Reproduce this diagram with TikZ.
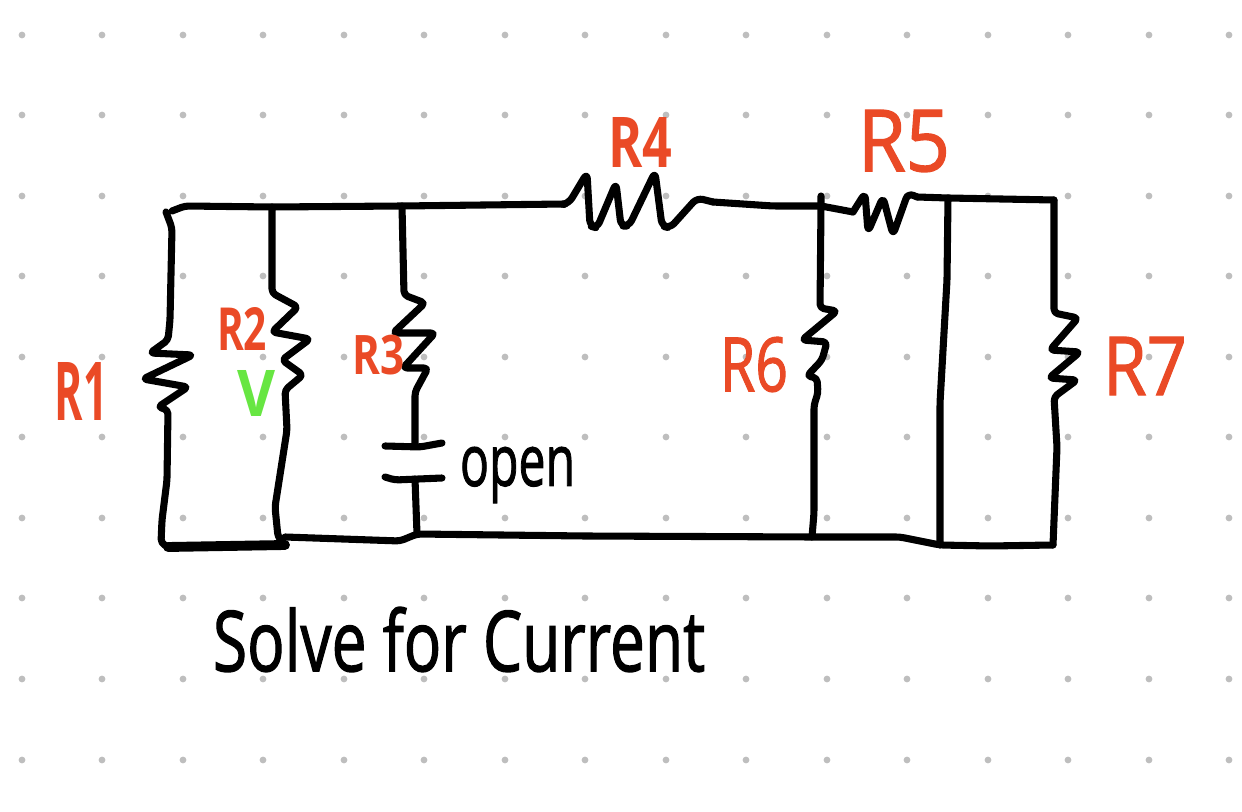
\documentclass[tikz,border=0pt]{standalone}
\usepackage{graphicx}
\usepackage{fontspec}
\setmainfont{Open Sans}
\newfontfamily\inkfont{Open Sans}[FakeBold=1.6]
\definecolor{inkred}{HTML}{EA4A26}
\definecolor{inkgreen}{HTML}{67E642}
\definecolor{dotgrey}{HTML}{BEBEBE}
\newlength\pxu \setlength\pxu{0.75pt}
\newcommand\hwtext[3]{\resizebox*{#1\pxu}{#2\pxu}{\bfseries #3}}
\newcommand\hwthin[3]{\resizebox*{#1\pxu}{#2\pxu}{\inkfont #3}}
\tikzset{
  wire/.style={line width=5.3pt,line cap=round,line join=round,rounded corners=3pt,black},
  coil/.style={wire,rounded corners=4.5pt},
  fatwire/.style={wire,line width=7.4pt},
  hand/.style={inner sep=0pt,outer sep=0pt,anchor=center},
  red label/.style={hand,text=inkred},
  green label/.style={hand,text=inkgreen},
  black label/.style={hand,text=black}
}
\begin{document}
\begin{tikzpicture}[x=0.75pt,y=-0.75pt]
\useasboundingbox (0,0) rectangle (1242,812);
\foreach \gx in {22,102,183,263,344,424,505,585,666,746,827,907,988,1068,1149,1229}
  \foreach \gy in {35,115,196,276,357,437,518,598,679,760}
    \fill[dotgrey] (\gx,\gy) circle (3.4);
% junctions
\coordinate (tl) at (172,211);
\coordinate (t2) at (272,207);
\coordinate (t3) at (402,206);
\coordinate (t6) at (821,206);
\coordinate (t8) at (948,198);
\coordinate (tr) at (1054,200);
\coordinate (bl) at (161,543);
\coordinate (b2) at (285,545);
\coordinate (b2w) at (285,537);
\coordinate (b3) at (417,534);
\coordinate (b6) at (812,537);
\coordinate (b8) at (940,545);
\coordinate (br) at (1053,545);
\coordinate (r3end) at (415,392);
\coordinate (c1) at (415,446);
\coordinate (c2) at (415,479);
% top rail
\draw[wire] (tl) -- (185,206) -- (t2) -- (t3) -- (565,204);
\draw[coil] (565,204) -- (569,203) -- (587,173) -- (590,226) -- (597,228) -- (616,183) -- (621,226) -- (629,226)
  -- (655,172) -- (662,226) -- (670,228) -- (697,198) -- (713,202);
\draw[wire] (713,202) -- (743,204) -- (773,206) -- (t6) -- (853,212);
\draw[coil] (853,212) -- (865,193) -- (868,232) -- (883,197) -- (893,235) -- (908,193) -- (917,197);
\draw[wire] (917,197) -- (t8) -- (tr);
% R1
\draw[wire] (166,212) -- (172,228) -- (170,320) -- (168,340) -- (150,353) -- (193,355) -- (143,379)
  -- (188,387) -- (158,407) -- (168,410) -- (167,480) -- (162,520) -- (bl) -- (168,547);
% R2
\draw[wire] (t2) -- (272,293) -- (298,307) -- (272,332) -- (310,339) -- (282,360) -- (303,375)
  -- (285,390) -- (287,430) -- (275,507) -- (278,537) -- (b2);
% R3 and capacitor
\draw[wire] (t3) -- (404,295) -- (425,303) -- (393,333) -- (435,333) -- (403,368) -- (428,368) -- (r3end) -- (c1);
\draw[wire] (385,446) -- (420,447) -- (442,443);
\draw[wire] (385,477) -- (395,480) -- (442,478);
\draw[wire] (c2) -- (b3);
% R6
\draw[wire] (821,196) -- (t6) -- (820,308) -- (837,311) -- (802,340) -- (827,342) -- (822,360) -- (807,376)
  -- (817,378) -- (818,393) -- (814,405) -- (814,513) -- (b6);
% shorting wire
\draw[wire] (t8) -- (947,280) -- (940,403) -- (b8);
% R7
\draw[wire] (tr) -- (1054,313) -- (1078,318) -- (1050,350) -- (1080,352) -- (1049,378) -- (1077,380)
  -- (1054,397) -- (1057,447) -- (br);
% bottom rail
\draw[fatwire] (168,547) -- (b2);
\draw[wire] (b2w) -- (400,541) -- (b3) -- (585,536) -- (b6) -- (900,537) -- (b8) -- (990,546) -- (br);
% labels
\node[red label] (lR1) at (81.5,391) {\hwtext{53}{58}{R1}};
\node[red label] (lR2) at (242,328.5) {\hwtext{50}{43}{R2}};
\node[green label] (lV) at (256,393) {\hwtext{38}{46}{V}};
\node[red label] (lR3) at (378.5,355) {\hwtext{52}{40}{R3}};
\node[red label] (lR4) at (640,142) {\hwtext{64}{50}{R4}};
\node[red label] (lR5) at (904,141) {\hwthin{92}{62}{R5}};
\node[red label] (lR6) at (754,364.5) {\hwthin{68}{55}{R6}};
\node[red label] (lR7) at (1145,366) {\hwthin{84}{58}{R7}};
\node[black label] (lopen) at (517.5,475) {\hwthin{115}{56}{open}};
\node[black label] (lsolve) at (459,639.5) {\hwthin{492}{65}{Solve for Current}};
\end{tikzpicture}
\end{document}
